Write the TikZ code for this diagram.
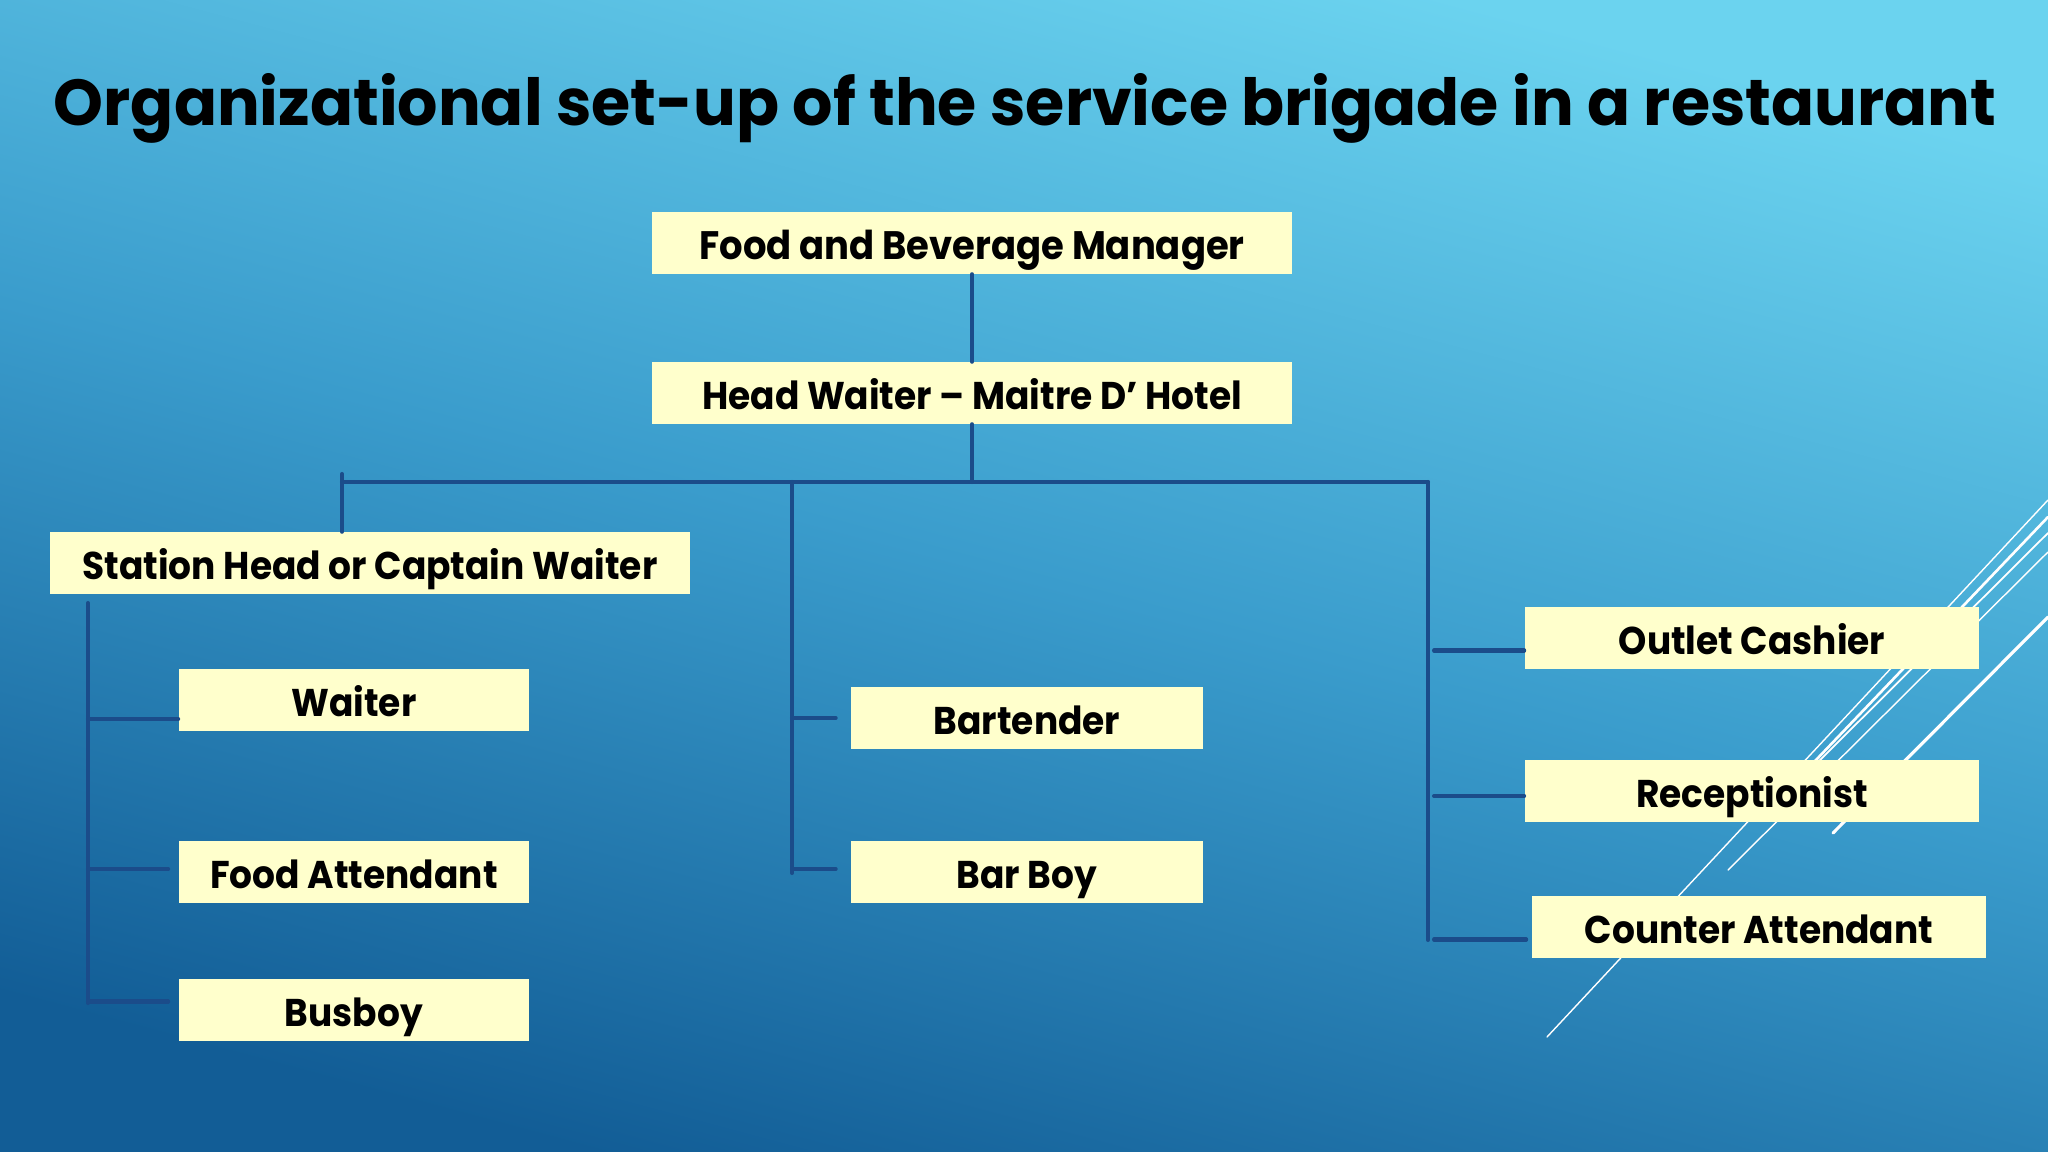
\documentclass[tikz,border=0pt]{standalone}
\usepackage{graphicx}
\usepackage{fontspec}
\setmainfont{Poppins}
\newfontfamily\slidefont{Poppins}[FakeStretch=0.93]
\definecolor{skytop}{HTML}{6BD3EF}
\definecolor{skymid}{HTML}{3A9CCC}
\definecolor{skybot}{HTML}{125D96}
\definecolor{cream}{HTML}{FFFFCC}
\definecolor{linkblue}{HTML}{1B4C8A}
\begin{document}
\begin{tikzpicture}[x=0.01cm,y=-0.01cm,
		post/.style={fill=cream, inner sep=0pt, minimum width=#1, minimum height=0.61cm,
			text height=0.32cm, text depth=0pt, font=\slidefont\bfseries\fontsize{11}{13}\selectfont},
		link/.style={draw=linkblue, line width=1.15pt, line cap=round},
		streak/.style={draw=white, line cap=round}]
		\useasboundingbox (0,0) rectangle (2048,1152);
		
		% Background
		\shade[top color=skytop, bottom color=skybot, middle color=skymid, shading angle=-15]
			(0,0) rectangle (2048,1152);
		\draw[streak, line width=0.4pt] (1547,1037) -- (2048,500);
		\draw[streak, line width=0.4pt] (1728,870) -- (2048,552);
		\draw[streak, line width=0.75pt] (1795,782) -- (2048,517);
		\draw[streak, line width=0.5pt] (1805,775) -- (2048,533);
		\draw[streak, line width=0.9pt] (1833,833) -- (2048,617);
		
		% Title
		\node[anchor=base] (title) at (1025,126)
			{\resizebox{19.41cm}{0.52cm}{\slidefont\bfseries Organizational set-up of the service brigade in a restaurant}};
		
		% Staff boxes
		\node[post=6.40cm] (fbm) at (972,243) {\fontsize{11.3}{13}\selectfont Food and Beverage Manager};
		\node[post=6.40cm] (hw) at (972,393) {Head Waiter – Maitre D’ Hotel};
		\node[post=6.40cm] (station) at (370,563) {Station Head or Captain Waiter};
		\node[post=3.50cm] (waiter) at (354,700) {Waiter};
		\node[post=3.50cm] (foodatt) at (354,872) {Food Attendant};
		\node[post=3.50cm] (busboy) at (354,1010) {Busboy};
		\node[post=3.51cm] (bartender) at (1027,718) {Bartender};
		\node[post=3.51cm] (barboy) at (1027,872) {Bar Boy};
		\node[post=4.54cm] (outlet) at (1752,638) {Outlet Cashier};
		\node[post=4.54cm] (recept) at (1752,791) {Receptionist};
		\node[post=4.54cm] (counter) at (1759,927) {Counter Attendant};
		
		% Trunk points
		\coordinate (hub) at (972,482);
		\coordinate (leftend) at (342,482);
		\coordinate (barend) at (792,482);
		\coordinate (rightend) at (1428,482);
		\coordinate (barfoot) at (792,873);
		\coordinate (rightfoot) at (1428,940);
		\coordinate (rightstub) at (1434,482);
		\coordinate (stationfoot) at (88,603);
		\coordinate (leftfoot) at (88,1003);
		
		% Main lines
		\draw[link] (fbm) -- (hw);
		\draw[link] (hw.south) -- (hub);
		\draw[link] (leftend) -- (rightend);
		\draw[link] ([yshift=0.08cm]leftend) -- (leftend |- station.north);
		\draw[link] (barend) -- (barfoot);
		\draw[link] (rightend) -- (rightfoot);
		\draw[link] (stationfoot) -- (leftfoot);
		
		% Ticks to the boxes
		\foreach \who/\dy/\gap in {waiter/-0.19/0, foodatt/0.03/0.1, busboy/0.085/0.1}{
			\coordinate (tip) at ([xshift=-\gap cm, yshift=\dy cm]\who.west);
			\draw[link] (tip -| stationfoot) -- (tip);
		}
		\foreach \who/\dy in {bartender/0, barboy/0.03}{
			\coordinate (tip) at ([xshift=-0.15cm, yshift=\dy cm]\who.west);
			\draw[link] (tip -| barend) -- (tip);
		}
		\foreach \who/\dy/\gap in {outlet/-0.125/0, recept/-0.05/0, counter/-0.125/0.05}{
			\coordinate (tip) at ([xshift=-\gap cm, yshift=\dy cm]\who.west);
			\draw[link] (tip -| rightstub) -- (tip);
		}
	\end{tikzpicture}
\end{document}
